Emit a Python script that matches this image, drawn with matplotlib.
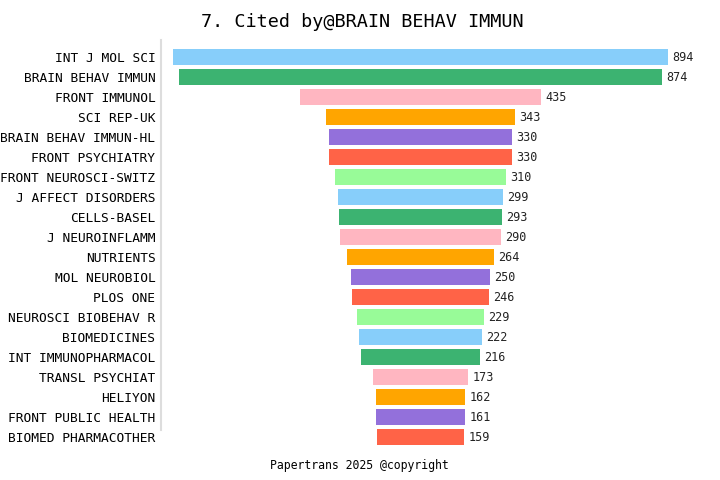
import matplotlib
matplotlib.use("Agg")
import matplotlib.pyplot as plt
import numpy as np

journals = ["INT J MOL SCI", "BRAIN BEHAV IMMUN", "FRONT IMMUNOL", "SCI REP-UK",
            "BRAIN BEHAV IMMUN-HL", "FRONT PSYCHIATRY", "FRONT NEUROSCI-SWITZ",
            "J AFFECT DISORDERS", "CELLS-BASEL", "J NEUROINFLAMM", "NUTRIENTS",
            "MOL NEUROBIOL", "PLOS ONE", "NEUROSCI BIOBEHAV R", "BIOMEDICINES",
            "INT IMMUNOPHARMACOL", "TRANSL PSYCHIAT", "HELIYON",
            "FRONT PUBLIC HEALTH", "BIOMED PHARMACOTHER"]
counts = [894, 874, 435, 343, 330, 330, 310, 299, 293, 290, 264, 250, 246,
          229, 222, 216, 173, 162, 161, 159]
palette = ["#87CEFA", "#3CB371", "#FFB6C1", "#FFA500", "#9370DB", "#FF6347", "#98FB98"]
title = "7. Cited by@BRAIN BEHAV IMMUN"
footer = "Papertrans 2025 @copyright"

plt.rcParams['font.family'] = ['DejaVu Sans Mono']

fig = plt.figure(figsize=(7.2, 4.8), dpi=100)
W, H = 720, 480
left_px, right_px, top_px, bot_px = 161, 680, 40, 460
ax = fig.add_axes([left_px / W, 1 - bot_px / H, (right_px - left_px) / W, (bot_px - top_px) / H])

vals = np.array(counts)
y = np.arange(len(vals))
colors = [palette[i % len(palette)] for i in range(len(vals))]
ax.barh(y, vals, left=-vals / 2, height=0.8, color=colors)
for yi, v in zip(y, vals):
    ax.annotate(str(v), (v / 2, yi), xytext=(3, 0), textcoords='offset points',
                va='center', ha='left', fontsize=8.5, color='#222222')

ax.set_xlim(-469, 469)
ax.set_ylim(20.15, -0.85)
ax.set_yticks(y)
ax.set_yticklabels(journals, fontsize=9.3)
ax.tick_params(axis='y', length=0, pad=4)
ax.set_xticks([])
for s in ['top', 'right', 'bottom']:
    ax.spines[s].set_visible(False)
ax.spines['left'].set_color('#dddddd')
ax.spines['left'].set_linewidth(1.5)
ax.spines['left'].set_bounds(-0.85, 18.65)

fig.text(362 / W, 1 - 22 / H, title, ha='center', va='center', fontsize=13.3)
fig.text(359 / W, 1 - 466 / H, footer, ha='center', va='center', fontsize=8.3)

fig.savefig("out.png", dpi=100)
